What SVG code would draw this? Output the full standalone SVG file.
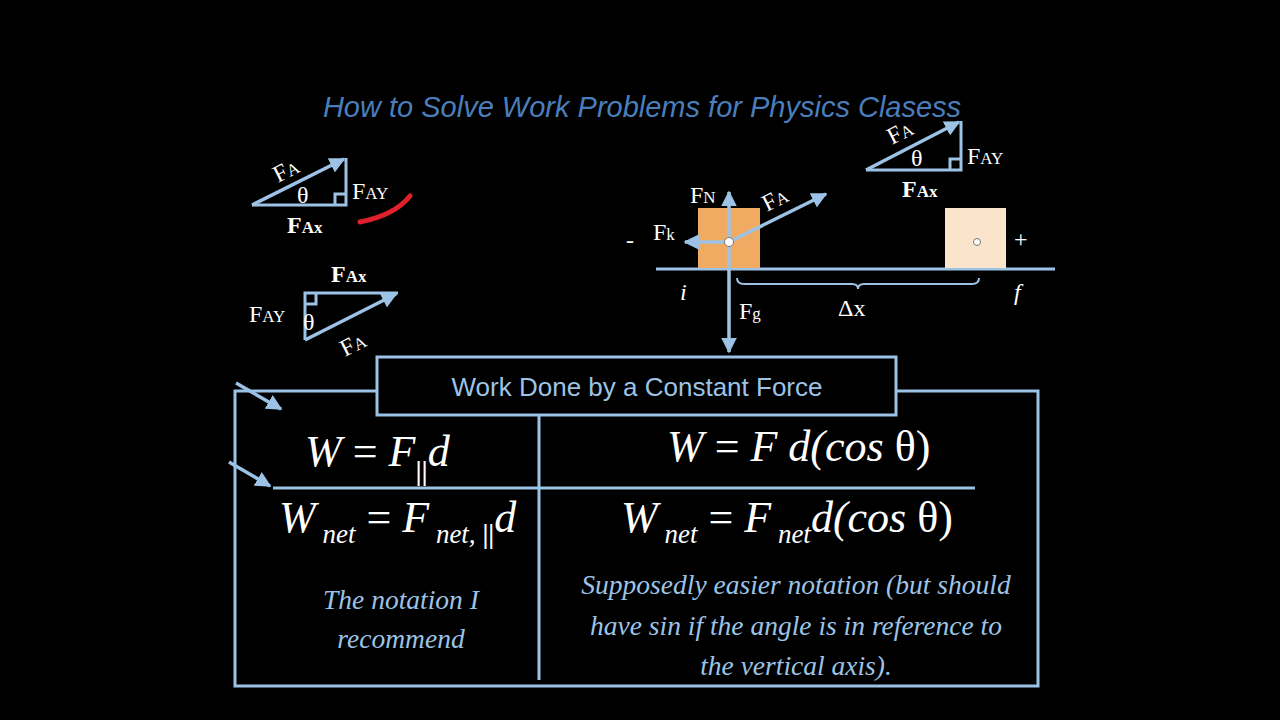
<svg xmlns="http://www.w3.org/2000/svg" width="1280" height="720" viewBox="0 0 1280 720">
<defs>
<marker id="ah" viewBox="0 0 10 10" refX="9" refY="5" markerWidth="4.5" markerHeight="4.5" orient="auto"><path d="M0,0 L10,5 L0,10 z" fill="#9cc3e5"/></marker>
<style>
.ln{stroke:#9cc3e5;stroke-width:3;fill:none}
.ar{stroke:#9cc3e5;stroke-width:3.5;fill:none;marker-end:url(#ah)}
.lb{font-family:"Liberation Serif",serif;fill:#fff;font-size:24px}
.sm{font-size:17px}
.eq{font-family:"Liberation Serif",serif;fill:#fff;font-size:44px;font-style:italic}
.nt{font-family:"Liberation Serif",serif;fill:#9cc3e5;font-size:27.5px;font-style:italic;text-anchor:middle}
</style>
</defs>
<rect width="1280" height="720" fill="#000"/>
<text x="642" y="117" text-anchor="middle" font-family="Liberation Sans, sans-serif" font-style="italic" font-size="29" fill="#4a7ebb">How to Solve Work Problems for Physics Clasess</text>

<g id="tri1">
<path class="ln" d="M346,158 V205 H252"/><path class="ln" stroke-width="1.5" d="M335,205 V194 H346"/>
<line class="ar" x1="252" y1="205" x2="344" y2="159"/>
<text class="lb" x="297" y="203">θ</text>
<text class="lb" x="352" y="199">F<tspan class="sm">AY</tspan></text>
<text class="lb" x="287" y="233" font-weight="bold">F<tspan class="sm">Ax</tspan></text>
<text class="lb" transform="translate(278,183) rotate(-27)">F<tspan class="sm">A</tspan></text>
<path d="M360,222 Q395,215 410,196" stroke="#e0202a" stroke-width="5" fill="none" stroke-linecap="round"/>
</g>
<g id="tri2">
<path class="ln" d="M398,293 H305 V340"/><path class="ln" stroke-width="1.5" d="M305,304 H316 V293"/>
<line class="ar" x1="305" y1="340" x2="396" y2="294"/>
<text class="lb" x="331" y="282" font-weight="bold">F<tspan class="sm">Ax</tspan></text>
<text class="lb" x="249" y="322">F<tspan class="sm">AY</tspan></text>
<text class="lb" x="303" y="330">θ</text>
<text class="lb" transform="translate(345,357) rotate(-27)">F<tspan class="sm">A</tspan></text>
</g>
<g id="tri3">
<path class="ln" d="M961,121 V170 H866"/><path class="ln" stroke-width="1.5" d="M950,170 V159 H961"/>
<line class="ar" x1="866" y1="170" x2="959" y2="122"/>
<text class="lb" x="911" y="166">θ</text>
<text class="lb" x="967" y="164">F<tspan class="sm">AY</tspan></text>
<text class="lb" x="902" y="197" font-weight="bold">F<tspan class="sm">Ax</tspan></text>
<text class="lb" transform="translate(892,145) rotate(-27)">F<tspan class="sm">A</tspan></text>
</g>
<g id="scene">
<line x1="656" y1="269" x2="1055" y2="269" class="ln"/>
<rect x="698" y="208" width="62" height="60" fill="#f0aa62"/>
<rect x="945" y="208" width="61" height="60" fill="#fbe4cc"/>
<circle cx="977" cy="242" r="3.5" fill="#fff" stroke="#777"/>
<line class="ar" x1="729" y1="242" x2="729" y2="192"/>
<line class="ar" x1="729" y1="242" x2="685" y2="242"/>
<line class="ar" x1="729" y1="242" x2="826" y2="194"/>
<line class="ar" x1="729" y1="242" x2="729" y2="352"/>
<circle cx="729" cy="242" r="4.5" fill="#fff" stroke="#777"/>
<text class="lb" x="690" y="203">F<tspan class="sm">N</tspan></text>
<text class="lb" x="653" y="240">F<tspan class="sm">k</tspan></text>
<text class="lb" x="739" y="319">F<tspan class="sm">g</tspan></text>
<text class="lb" transform="translate(767,212) rotate(-27)">F<tspan class="sm">A</tspan></text>
<text class="lb" x="626" y="248">-</text>
<text class="lb" x="1014" y="247">+</text>
<text class="lb" x="680" y="300" font-style="italic">i</text>
<text class="lb" x="1014" y="300" font-style="italic">f</text>
<text class="lb" x="838" y="316">Δx</text>
<path d="M737,278 Q737,284 744,284 H852 Q858,284 858,289 Q858,284 864,284 H972 Q979,284 979,278" stroke="#9cc3e5" stroke-width="2" fill="none"/>
</g>
<g id="table">
<rect x="235" y="391" width="803" height="295" class="ln" stroke-width="2.5"/>
<rect x="377" y="357" width="519" height="58" style="fill:#000" class="ln" stroke-width="2.5"/>
<text x="637" y="396" text-anchor="middle" font-family="Liberation Sans, sans-serif" font-size="26" fill="#9cc3e5">Work Done by a Constant Force</text>
<line x1="539" y1="415" x2="539" y2="680" class="ln" stroke-width="2.5"/>
<line x1="273" y1="488" x2="975" y2="488" class="ln" stroke-width="2.5"/>
<text class="eq" x="305" y="466">W <tspan font-style="normal">= </tspan>F<tspan font-style="normal" font-size="28" dy="14" font-weight="bold">||</tspan><tspan dy="-14">d</tspan></text>
<text class="eq" x="667" y="461">W <tspan font-style="normal">=</tspan> F d(cos <tspan font-style="normal">θ)</tspan></text>
<text class="eq" x="279" y="532">W<tspan font-size="27" dy="11"> net</tspan><tspan dy="-11" font-style="normal"> =</tspan> F<tspan font-size="27" dy="11"> net, </tspan><tspan font-size="27" font-style="normal" font-weight="bold">||</tspan><tspan dy="-11">d</tspan></text>
<text class="eq" x="621" y="532">W<tspan font-size="27" dy="11"> net</tspan><tspan dy="-11" font-style="normal"> =</tspan> F<tspan font-size="27" dy="11"> net</tspan><tspan dy="-11">d(cos </tspan><tspan font-style="normal">θ)</tspan></text>
<text class="nt" x="401" y="609">The notation I</text>
<text class="nt" x="401" y="648">recommend</text>
<text class="nt" x="796" y="594">Supposedly easier notation (but should</text>
<text class="nt" x="796" y="635">have sin if the angle is in reference to</text>
<text class="nt" x="796" y="675">the vertical axis).</text>
</g>
<g id="connectors">
<line class="ar" x1="236" y1="383" x2="281" y2="409" stroke-width="2.5"/>
<line class="ar" x1="229" y1="462" x2="270" y2="486" stroke-width="2.5"/>
</g>
</svg>
